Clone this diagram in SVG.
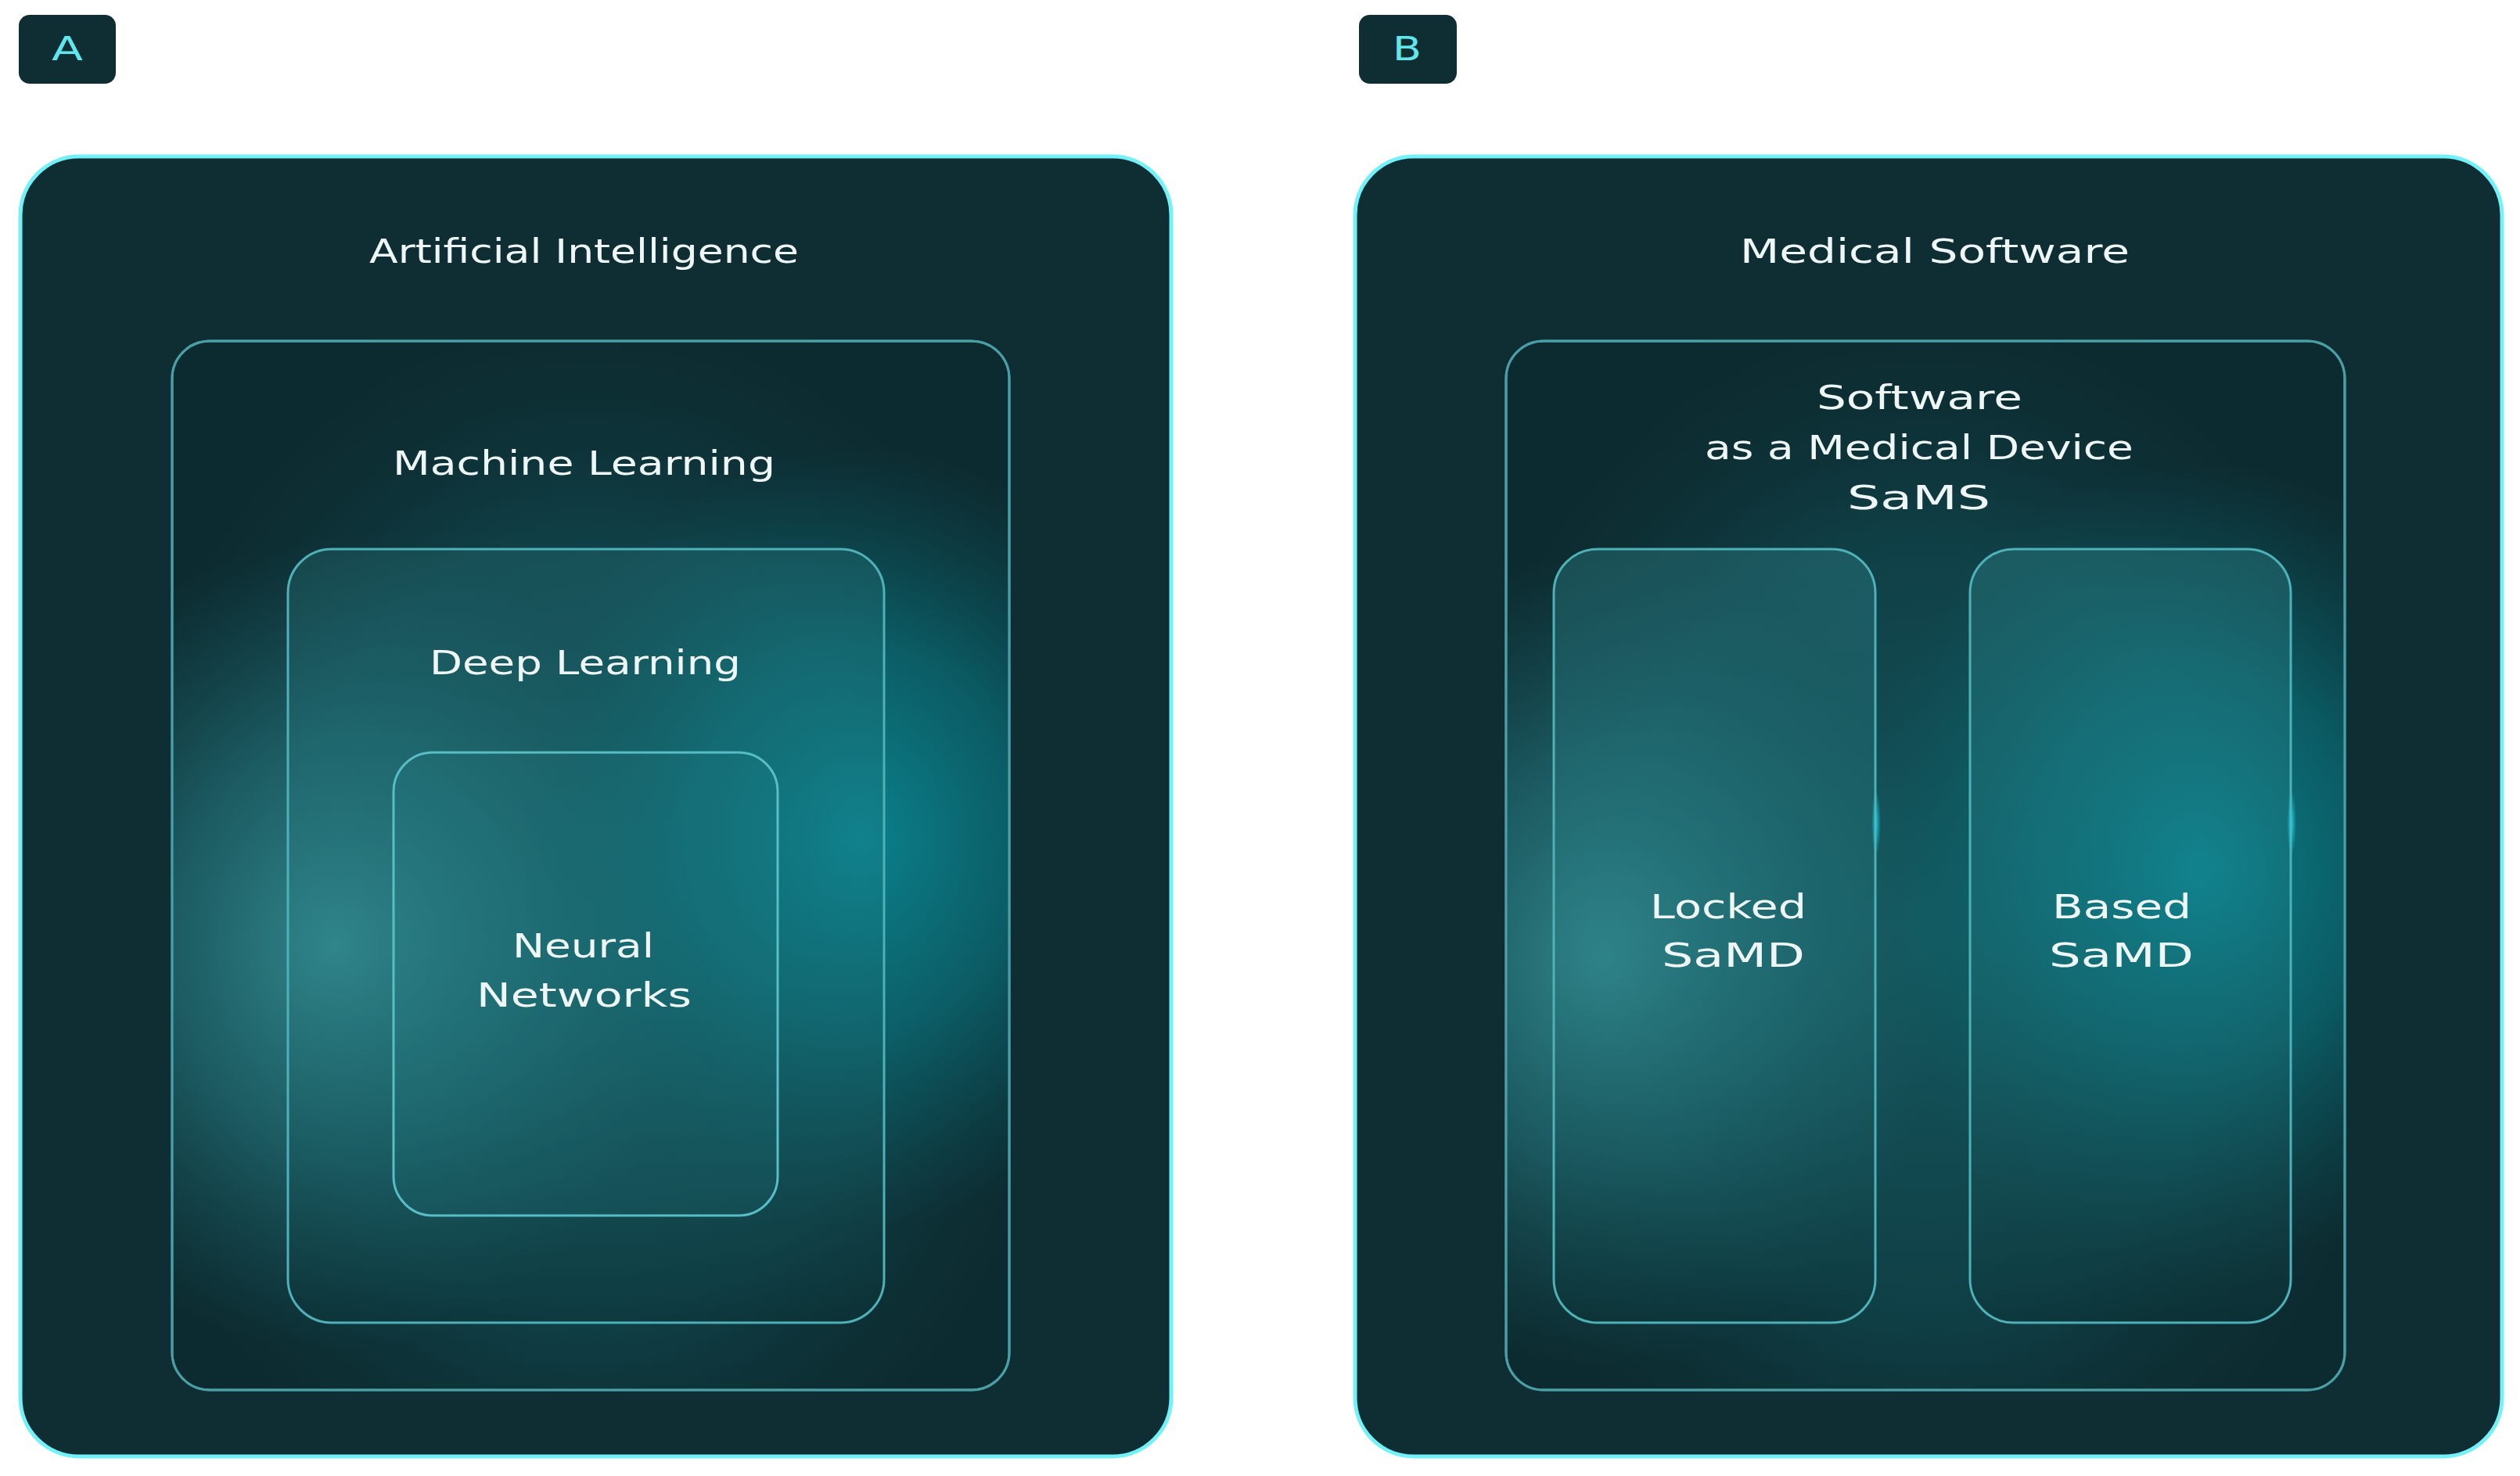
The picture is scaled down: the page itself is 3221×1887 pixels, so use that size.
<svg xmlns="http://www.w3.org/2000/svg" width="3221" height="1887" viewBox="0 0 3221 1887">
<style>
.panel{fill:#0f2e33;stroke:#72f1f9;stroke-width:5}
.lvl1{fill:#0c2b30;stroke:#4a9ea5;stroke-width:3}
.lvl2{stroke:#4fb1b8;stroke-width:3}
.lvl3{stroke:#58bec6;stroke-width:3}
.tag{fill:#0f2e33}
.tagtxt{fill:#62e6ee;font-family:"DejaVu Sans","Liberation Sans",sans-serif;font-weight:400;font-size:42px}
.lbl{fill:#eef6f6;font-family:"DejaVu Sans","Liberation Sans",sans-serif;font-weight:400;font-size:43px}
</style>
<defs>
<clipPath id="clipML"><rect x="220" y="436" width="1070" height="1341" rx="48"/></clipPath>
<clipPath id="clipSA"><rect x="1925" y="436" width="1072" height="1341" rx="48"/></clipPath>
<radialGradient id="gBase" gradientUnits="objectBoundingBox" cx="0.5" cy="0.56" r="0.62">
<stop offset="0" stop-color="#15585e" stop-opacity="1"/>
<stop offset="0.6" stop-color="#10434a" stop-opacity="0.85"/>
<stop offset="1" stop-color="#0c2b30" stop-opacity="0"/>
</radialGradient>
<radialGradient id="gGray" gradientUnits="objectBoundingBox" cx="0.5" cy="0.5" r="0.5">
<stop offset="0" stop-color="#318589" stop-opacity="1"/>
<stop offset="0.5" stop-color="#24737a" stop-opacity="0.6"/>
<stop offset="1" stop-color="#1a5f65" stop-opacity="0"/>
</radialGradient>
<radialGradient id="gTeal" gradientUnits="objectBoundingBox" cx="0.5" cy="0.5" r="0.5">
<stop offset="0" stop-color="#0a818c" stop-opacity="1"/>
<stop offset="0.5" stop-color="#0a717b" stop-opacity="0.65"/>
<stop offset="1" stop-color="#0b5a62" stop-opacity="0"/>
</radialGradient>
<linearGradient id="gBox" x1="0" y1="0" x2="0" y2="1">
<stop offset="0" stop-color="#2a7a80" stop-opacity="0.3"/>
<stop offset="0.5" stop-color="#2a8a92" stop-opacity="0.15"/>
<stop offset="1" stop-color="#0a3236" stop-opacity="0.45"/>
</linearGradient>
<linearGradient id="gBoxB" x1="0" y1="0" x2="0" y2="1">
<stop offset="0" stop-color="#2a7a80" stop-opacity="0.45"/>
<stop offset="0.45" stop-color="#2a8a92" stop-opacity="0.2"/>
<stop offset="1" stop-color="#0a3236" stop-opacity="0.5"/>
</linearGradient>
<radialGradient id="gBulge" cx="0.5" cy="0.5" r="0.5">
<stop offset="0" stop-color="#2fc7d4" stop-opacity="0.9"/>
<stop offset="1" stop-color="#2fc7d4" stop-opacity="0"/>
</radialGradient>
</defs>

<g id="tag-A">
<rect class="tag" x="24" y="19" width="124" height="88" rx="14"/>
<text class="tagtxt" x="66" y="77" textLength="40" lengthAdjust="spacingAndGlyphs">A</text>
</g>
<g id="tag-B">
<rect class="tag" x="1737" y="19" width="125" height="88" rx="14"/>
<text class="tagtxt" x="1780" y="77" textLength="37" lengthAdjust="spacingAndGlyphs">B</text>
</g>

<g id="panel-A">
<rect class="panel" x="26" y="200" width="1471" height="1662" rx="75"/>
<text class="lbl" x="472" y="336" textLength="549" lengthAdjust="spacingAndGlyphs">Artificial Intelligence</text>
</g>
<g id="node-ML">
<rect class="lvl1" x="220" y="436" width="1070" height="1341" rx="48"/>
<g clip-path="url(#clipML)">
<rect x="220" y="436" width="1070" height="1341" fill="url(#gBase)"/>
<ellipse cx="430" cy="1210" rx="460" ry="520" fill="url(#gGray)"/>
<ellipse cx="1100" cy="1070" rx="440" ry="500" fill="url(#gTeal)"/>
</g>
<rect x="220" y="436" width="1070" height="1341" rx="48" fill="none" stroke="#4a9ea5" stroke-width="3"/>
<text class="lbl" x="502" y="607" textLength="489" lengthAdjust="spacingAndGlyphs">Machine Learning</text>
</g>
<g id="node-DL">
<rect class="lvl2" x="368" y="702" width="762" height="989" rx="56" fill="url(#gBox)"/>
<text class="lbl" x="549" y="862" textLength="398" lengthAdjust="spacingAndGlyphs">Deep Learning</text>
</g>
<g id="node-NN">
<rect class="lvl3" x="503" y="962" width="491" height="592" rx="50" fill="#2a8a90" fill-opacity="0.12"/>
<text class="lbl" x="655" y="1224" textLength="181" lengthAdjust="spacingAndGlyphs">Neural</text>
<text class="lbl" x="609" y="1287" textLength="275" lengthAdjust="spacingAndGlyphs">Networks</text>
</g>

<g id="panel-B">
<rect class="panel" x="1732" y="200" width="1466" height="1662" rx="75"/>
<text class="lbl" x="2224" y="336" textLength="498" lengthAdjust="spacingAndGlyphs">Medical Software</text>
</g>
<g id="node-SaMD">
<rect class="lvl1" x="1925" y="436" width="1072" height="1341" rx="48"/>
<g clip-path="url(#clipSA)">
<rect x="1925" y="436" width="1072" height="1341" fill="url(#gBase)"/>
<ellipse cx="2050" cy="1230" rx="440" ry="520" fill="url(#gGray)"/>
<ellipse cx="2810" cy="1110" rx="440" ry="520" fill="url(#gTeal)"/>
</g>
<rect x="1925" y="436" width="1072" height="1341" rx="48" fill="none" stroke="#4a9ea5" stroke-width="3"/>
<text class="lbl" x="2322" y="523" textLength="263" lengthAdjust="spacingAndGlyphs">Software</text>
<text class="lbl" x="2179" y="587" textLength="548" lengthAdjust="spacingAndGlyphs">as a Medical Device</text>
<text class="lbl" x="2361" y="651" textLength="183" lengthAdjust="spacingAndGlyphs">SaMS</text>
</g>
<g id="node-Locked">
<rect class="lvl2" x="1986" y="702" width="411" height="989" rx="56" fill="url(#gBoxB)"/>
<ellipse cx="2398" cy="1052" rx="6" ry="42" fill="url(#gBulge)"/>
<text class="lbl" x="2109" y="1174" textLength="200" lengthAdjust="spacingAndGlyphs">Locked</text>
<text class="lbl" x="2124" y="1236" textLength="183" lengthAdjust="spacingAndGlyphs">SaMD</text>
</g>
<g id="node-Based">
<rect class="lvl2" x="2518" y="702" width="410" height="989" rx="56" fill="url(#gBoxB)"/>
<ellipse cx="2929" cy="1052" rx="6" ry="42" fill="url(#gBulge)"/>
<text class="lbl" x="2623" y="1174" textLength="178" lengthAdjust="spacingAndGlyphs">Based</text>
<text class="lbl" x="2619" y="1236" textLength="185" lengthAdjust="spacingAndGlyphs">SaMD</text>
</g>

<g id="connectors"/>
</svg>
